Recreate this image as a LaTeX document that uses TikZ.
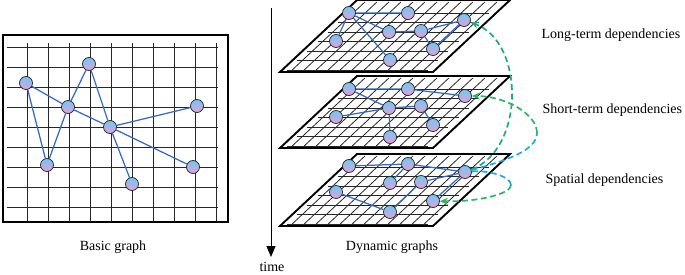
\documentclass[tikz,border=0pt]{standalone}
\usepackage{fontspec}
\setmainfont{Liberation Serif}
\usetikzlibrary{arrows.meta,positioning,calc}
\definecolor{lnkblue}{RGB}{55,105,195}
\definecolor{nodetop}{RGB}{110,200,245}
\definecolor{nodebot}{RGB}{228,160,215}
\definecolor{depblue}{RGB}{30,170,225}
\definecolor{depgreen}{RGB}{45,180,105}
\definecolor{depteal}{RGB}{35,170,130}

\begin{document}
\begin{tikzpicture}[x=1pt, y=1pt,
    vtx/.style={circle, draw=black!85, line width=0.7pt, minimum size=13pt, inner sep=0pt, top color=nodetop, bottom color=nodebot},
    lnk/.style={lnkblue, line width=1.25pt},
    frame/.style={line width=1.9pt},
    gridln/.style={black!85, line width=0.8pt},
    dep/.style={dash pattern=on 6pt off 3.5pt, line width=1.7pt},
    arr/.style={-{Stealth[length=8pt, width=7pt]}},
    lbl/.style={font=\fontsize{14}{16}\selectfont},
  ]
  \useasboundingbox (0,0) rectangle (685,274);

  % basic graph
  \foreach \y in {67,87,...,227} \draw[gridln] (7,\y) -- (218,\y);
  \foreach \x in {27,48,...,216} \draw[gridln] (\x,53) -- (\x,231);
  \draw[frame] (3,52) rectangle (228,239);

  \node[vtx] (g1) at (89,210) {};
  \node[vtx] (g2) at (26,191) {};
  \node[vtx] (g3) at (68,167) {};
  \node[vtx] (g4) at (110,147) {};
  \node[vtx] (g5) at (197,168) {};
  \node[vtx] (g6) at (47,109) {};
  \node[vtx] (g7) at (193,107) {};
  \node[vtx] (g8) at (132,90) {};
  \draw[lnk] (g2) -- (g3) (g2) -- (g6) (g6) -- (g3) (g3) -- (g1) (g1) -- (g4)
    (g3) -- (g4) (g4) -- (g5) (g4) -- (g7) (g4) -- (g8);
  \node[lbl] (basic) at (113,27) {Basic graph};

  % time axis
  \coordinate (tstart) at (271,266);
  \coordinate (tend) at (271,17);
  \draw[line width=1pt, -{Triangle[length=11pt, width=9pt]}] (tstart) -- (tend);
  \node[lbl] (time) at (272,7) {time};

  % dynamic graphs
  \foreach \yb in {202,126,48} {
    \begin{scope}[shift={(280,\yb)}, xslant=1.07]
      \foreach \v in {2,11.5,...,59} \draw[gridln] (5,\v) -- (146,\v);
      \foreach \u in {10,22,...,142} \draw[gridln] (\u,2) -- (\u,70);
      \draw[frame] (0,0) rectangle (153,72);
    \end{scope}
  }

  \node[vtx] (t1) at (349,261) {};
  \node[vtx] (t2) at (408,261) {};
  \node[vtx] (t3) at (464,254) {};
  \node[vtx] (t4) at (389,242) {};
  \node[vtx] (t5) at (421,243) {};
  \node[vtx] (t6) at (336,233) {};
  \node[vtx] (t7) at (433,225) {};
  \node[vtx] (t8) at (390,214) {};
  \draw[lnk] (t1) -- (t2) (t1) -- (t6) (t1) -- (t4) (t1) -- (t8)
    (t4) -- (t5) (t5) -- (t3) (t5) -- (t7) (t7) -- (t3);

  \node[vtx] (m1) at (349,185) {};
  \node[vtx] (m2) at (408,185) {};
  \node[vtx] (m3) at (465,178) {};
  \node[vtx] (m4) at (389,166) {};
  \node[vtx] (m5) at (421,168) {};
  \node[vtx] (m6) at (336,157) {};
  \node[vtx] (m7) at (433,149) {};
  \node[vtx] (m8) at (390,137) {};
  \draw[lnk] (m1) -- (m2) (m2) -- (m3) (m1) -- (m4) (m4) -- (m6)
    (m4) -- (m5) (m5) -- (m7) (m4) -- (m8);

  \node[vtx] (b1) at (349,108) {};
  \node[vtx] (b2) at (408,110) {};
  \node[vtx] (b3) at (465,102) {};
  \node[vtx] (b4) at (390,91) {};
  \node[vtx] (b5) at (421,92) {};
  \node[vtx] (b6) at (336,82) {};
  \node[vtx] (b7) at (433,73) {};
  \node[vtx] (b8) at (390,62) {};
  \draw[lnk] (b1) -- (b2) (b2) -- (b3) (b2) -- (b4) (b6) -- (b8)
    (b8) -- (b5) (b5) -- (b3) (b3) -- (b7);
  \node[lbl] (dyn) at (392,27) {Dynamic graphs};

  % dependencies
  \coordinate (sbend) at (537,141);
  \coordinate (pbend) at (511,89);
  \draw[dep, depteal, arr] (b3) .. controls (525,125) and (525,232) .. (t3);
  \draw[dep, depblue] (b3) .. controls (500,112) and (537,122) .. (sbend);
  \draw[dep, depgreen, arr] (sbend) .. controls (537,160) and (505,178) .. (m3);
  \draw[dep, depblue] (b3) .. controls (490,104) and (511,97) .. (pbend);
  \draw[dep, depgreen, arr] (pbend) .. controls (511,80) and (478,72) .. (b7);

  \node[lbl, anchor=west] (long) at (538,239) {Long-term dependencies};
  \node[lbl, anchor=west] (short) at (539,164) {Short-term dependencies};
  \node[lbl, anchor=west] (spat) at (542,94) {Spatial dependencies};
\end{tikzpicture}
\end{document}
